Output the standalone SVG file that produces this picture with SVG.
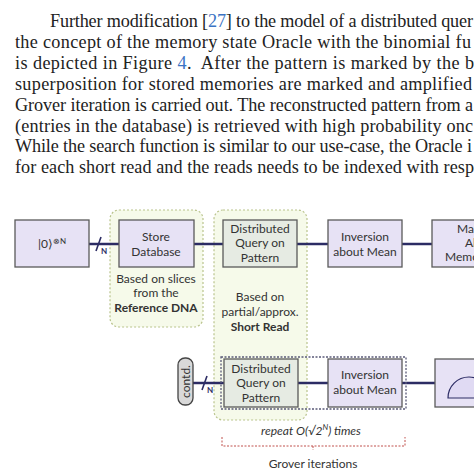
<svg xmlns="http://www.w3.org/2000/svg" width="474" height="474" viewBox="0 0 474 474">
<style>
.para{font-family:"Liberation Serif","DejaVu Serif",serif;font-size:18.2px;fill:#222}
.link{fill:#3a73c4}
.lbl{font-family:Lato,"Open Sans","Liberation Sans",sans-serif;font-size:12px;fill:#333;text-anchor:middle}
.st{text-anchor:start}
.b{font-weight:bold}
.box{fill:#e7e2f5;stroke:#5a5a5a;stroke-width:1.3}
.gbox{fill:#e6ebe3;stroke:#5a5a5a;stroke-width:1.3}
.wire{stroke:#2c2c64;stroke-width:2.5;fill:none}
.region{fill:#f6faea;stroke:#b9c38c;stroke-width:1.2;stroke-dasharray:2,2}
.small{font-family:Lato,"Liberation Sans",sans-serif;font-size:8px;font-weight:bold;fill:#2c2c64}
</style>
<rect width="474" height="474" fill="#fff"/>
<g id="paragraph">
<text class="para" x="50" y="27" textLength="423" lengthAdjust="spacing">Further modification [<tspan class="link">27</tspan>] to the model of a distributed quer</text>
<text class="para" x="15" y="48" textLength="456" lengthAdjust="spacing">the concept of the memory state Oracle with the binomial fu</text>
<text class="para" x="15" y="69" textLength="459" lengthAdjust="spacing" xml:space="preserve">is depicted in Figure <tspan class="link">4</tspan>.  After the pattern is marked by the b</text>
<text class="para" x="15" y="90" textLength="457" lengthAdjust="spacing">superposition for stored memories are marked and amplified</text>
<text class="para" x="15" y="111" textLength="458" lengthAdjust="spacing">Grover iteration is carried out. The reconstructed pattern from a</text>
<text class="para" x="15" y="132" textLength="458" lengthAdjust="spacing">(entries in the database) is retrieved with high probability onc</text>
<text class="para" x="15" y="152" textLength="457" lengthAdjust="spacing">While the search function is similar to our use-case, the Oracle i</text>
<text class="para" x="15" y="173" textLength="459" lengthAdjust="spacing">for each short read and the reads needs to be indexed with resp</text>
</g>
<g id="regions">
<rect class="region" x="110" y="210" width="93" height="117" rx="9"/>
<rect class="region" x="214" y="210" width="93" height="210" rx="9"/>
</g>
<g id="connectors">
<line class="wire" x1="89" y1="244" x2="119" y2="244"/>
<line class="wire" x1="194" y1="244" x2="223" y2="244"/>
<line class="wire" x1="297" y1="244" x2="328" y2="244"/>
<line class="wire" x1="402" y1="244" x2="432" y2="244"/>
<line class="wire" x1="193" y1="383" x2="224" y2="383"/>
<line class="wire" x1="298" y1="383" x2="328" y2="383"/>
<line class="wire" x1="402" y1="383" x2="435" y2="383"/>
<line stroke="#2c2c64" stroke-width="1.6" x1="96" y1="251" x2="101" y2="237"/>
<text class="small" x="101" y="254">N</text>
<line stroke="#2c2c64" stroke-width="1.6" x1="202" y1="390" x2="207" y2="376"/>
<text class="small" x="207" y="393">N</text>
</g>
<g id="init">
<rect class="box" x="15" y="220" width="74" height="47"/>
<text class="lbl" x="52" y="248">|0⟩<tspan font-size="8" dy="-4">⊗N</tspan></text>
</g>
<g id="store">
<rect class="box" x="119" y="220" width="75" height="47"/>
<text class="lbl" x="156" y="241">Store</text>
<text class="lbl" x="156" y="256">Database</text>
<text class="lbl" x="156" y="283">Based on slices</text>
<text class="lbl" x="156" y="297">from the</text>
<text class="lbl b" x="156" y="312">Reference DNA</text>
</g>
<g id="query1">
<rect class="gbox" x="223" y="220" width="74" height="47"/>
<text class="lbl" x="260" y="233">Distributed</text>
<text class="lbl" x="260" y="247">Query on</text>
<text class="lbl" x="260" y="262">Pattern</text>
<text class="lbl" x="260" y="301">Based on</text>
<text class="lbl" x="260" y="316">partial/approx.</text>
<text class="lbl b" x="260" y="331">Short Read</text>
</g>
<g id="inv1">
<rect class="box" x="328" y="220" width="74" height="47"/>
<text class="lbl" x="365" y="241">Inversion</text>
<text class="lbl" x="365" y="256">about Mean</text>
</g>
<g id="mark">
<rect class="box" x="432" y="220" width="60" height="47"/>
<text class="lbl st" x="457" y="233">Ma</text>
<text class="lbl st" x="465" y="247">Al</text>
<text class="lbl st" x="445" y="261">Memo</text>
</g>
<g id="grover">
<rect x="221" y="357" width="185" height="52" fill="none" stroke="#5a5a78" stroke-width="1.3" stroke-dasharray="2,1.5"/>
</g>
<g id="contd">
<rect x="178" y="358" width="15" height="47" rx="7" fill="#d9d9d9" stroke="#444" stroke-width="1.3"/>
<text class="lbl" transform="translate(189.5,381.5) rotate(-90)" font-size="11">contd.</text>
</g>
<g id="query2">
<rect class="gbox" x="224" y="359" width="74" height="48"/>
<text class="lbl" x="261" y="373">Distributed</text>
<text class="lbl" x="261" y="387">Query on</text>
<text class="lbl" x="261" y="402">Pattern</text>
</g>
<g id="inv2">
<rect class="box" x="328" y="359" width="74" height="48"/>
<text class="lbl" x="365" y="379">Inversion</text>
<text class="lbl" x="365" y="394">about Mean</text>
</g>
<g id="measure">
<rect class="box" x="435" y="359" width="60" height="48"/>
<path d="M448,398 A21,21 0 0 1 490,398 Z" fill="#e0daf3" stroke="#2c2c64" stroke-width="1.2"/>
</g>
<g id="brace">
<text class="lbl" x="311" y="435" font-style="italic">repeat O(√2<tspan font-size="8" dy="-5">N</tspan><tspan dy="5">) times</tspan></text>
<path d="M222,437 V446 H405 V437 M313,446 V450" fill="none" stroke="#c0504d" stroke-width="1" stroke-dasharray="2,1.5"/>
<text class="lbl" x="313" y="468">Grover iterations</text>
</g>
</svg>
